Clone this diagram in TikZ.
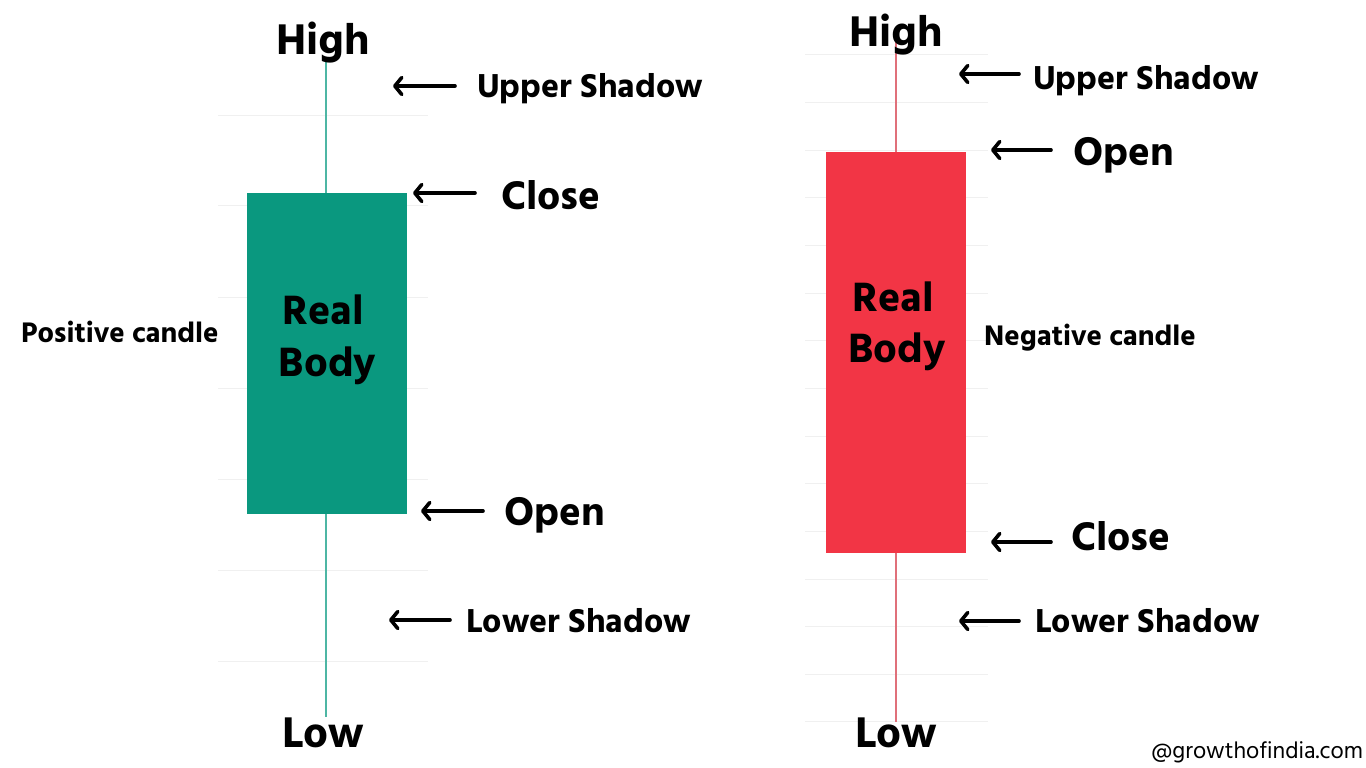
\documentclass[tikz,border=0pt]{standalone}
\usepackage{fontspec}
\setmainfont{Hind Siliguri}[BoldFont={Hind Siliguri Bold}]
\usetikzlibrary{arrows.meta}
\definecolor{gbody}{HTML}{0A987F}
\definecolor{gwick}{HTML}{4DB6A4}
\definecolor{rbody}{HTML}{F23545}
\definecolor{rwick}{HTML}{E0707A}
\definecolor{grid}{HTML}{F0F0F0}
\tikzset{
  gridline/.style={draw=grid, line width=1pt},
  arr/.style={draw=black, line width=3.6pt, line cap=round, -{Straight Barb[length=7pt,width=17pt,line cap=round,line join=round]}},
  big/.style={font=\bfseries\fontsize{44}{44}\selectfont, inner sep=0pt},
  mid/.style={font=\bfseries\fontsize{42}{42}\selectfont, inner sep=0pt},
  lab/.style={font=\bfseries\fontsize{34}{34}\selectfont, inner sep=0pt, anchor=base west},
  labb/.style={font=\bfseries\fontsize{41}{41}\selectfont, inner sep=0pt, anchor=base west},
  small/.style={font=\bfseries\fontsize{29}{29}\selectfont, inner sep=0pt, anchor=base west},
}
\begin{document}
\begin{tikzpicture}[x=1pt,y=-1pt]
\useasboundingbox[fill=white] (0,0) rectangle (1366,768);
% grid lines
\foreach \y in {115,205,297,388,479,570,661} \draw[gridline] (218,\y) -- (428,\y);
\foreach \i in {0,...,14} \draw[gridline] (805,55+47.64*\i) -- (988,55+47.64*\i);
% left candle
\coordinate (lhi) at (326,62);
\coordinate (llo) at (326,717);
\draw[gwick, line width=1.6pt] (lhi) -- (llo);
\node[fill=gbody, minimum width=160pt, minimum height=321pt, inner sep=0pt] (lbody) at (327,353.5) {};
% right candle
\coordinate (rhi) at (896,38);
\coordinate (rlo) at (896,722);
\draw[rwick, line width=1.6pt] (rhi) -- (rlo);
\node[fill=rbody, minimum width=140pt, minimum height=401pt, inner sep=0pt] (rbodyn) at (896,352.5) {};
% left texts
\node[big, anchor=base] (lhigh) at (323,55) {High};
\node[big, anchor=base] (llow) at (323,747) {Low};
\node[mid, anchor=base] (lreal) at (323,324) {Real};
\node[mid, anchor=base] (lbodyt) at (327.5,376) {Body};
\node[small] (pos) at (21,342) {Positive candle};
\node[lab] (lus) at (477,98) {Upper Shadow};
\node[labb] (lclose) at (501,209) {Close};
\node[labb] (lopen) at (504,525) {Open};
\node[lab] (lls) at (466,632) {Lower Shadow};
\coordinate (a1) at (455,86); \coordinate (b1) at (393,86);
\coordinate (a2) at (475,193); \coordinate (b2) at (413,193);
\coordinate (a3) at (483,511); \coordinate (b3) at (421,511);
\coordinate (a4) at (450,620); \coordinate (b4) at (389,620);
\draw[arr] (a1) -- (b1);
\draw[arr] (a2) -- (b2);
\draw[arr] (a3) -- (b3);
\draw[arr] (a4) -- (b4);
% right texts
\node[big, anchor=base] (rhigh) at (896,47) {High};
\node[big, anchor=base] (rlow) at (896,747) {Low};
\node[mid, anchor=base] (rreal) at (893,311) {Real};
\node[mid, anchor=base] (rbodyt) at (897,362) {Body};
\node[small] (neg) at (984,345) {Negative candle};
\node[lab] (rus) at (1033,89) {Upper Shadow};
\node[labb] (ropen) at (1073,165) {Open};
\node[labb] (rclose) at (1071,550) {Close};
\node[lab] (rls) at (1035,632) {Lower Shadow};
\coordinate (c1) at (1019,74); \coordinate (d1) at (959,74);
\coordinate (c2) at (1051,150); \coordinate (d2) at (991,150);
\coordinate (c3) at (1051,542); \coordinate (d3) at (991,542);
\coordinate (c4) at (1019,621); \coordinate (d4) at (959,621);
\draw[arr] (c1) -- (d1);
\draw[arr] (c2) -- (d2);
\draw[arr] (c3) -- (d3);
\draw[arr] (c4) -- (d4);
% credit
\node[font=\fontsize{23.5}{23.5}\selectfont, inner sep=0pt, anchor=base west] (credit) at (1151,758) {@growthofindia.com};
\end{tikzpicture}
\end{document}
